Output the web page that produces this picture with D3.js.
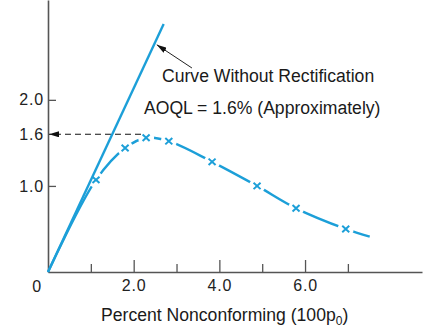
<!DOCTYPE html>
<html>
<head>
<meta charset="utf-8">
<script src="https://cdn.jsdelivr.net/npm/d3@7"></script>
<style>
    body { margin: 0; background: #fff; }
    svg { display: block; font-family: "Liberation Sans", Arial, Helvetica, sans-serif; }
    .tickText { font-size: 16px; fill: #222; letter-spacing: 0.8px; }
    .noteText { font-size: 17.6px; fill: #1a1a1a; }
</style>
</head>
<body>
<svg id="chart" width="429" height="331"></svg>
<script>
// AOQ with rectification, read at the sampled fractions nonconforming.
var sampleP = [1.12, 1.80, 2.29, 2.82, 3.83, 4.88, 5.79, 6.95];
var sampleAoq = [1.07, 1.44, 1.56, 1.52, 1.28, 1.00, 0.74, 0.50];
// The curve starts at the origin and trails off past the last sample.
var curveStart = [0, 0];
var curveEnd = [7.51, 0.41];
// Straight line for the case without rectification.
var noRectP = [0, 2.70];
var noRectAoq = [0, 2.88];
// AOQL level and where its dashed guide leaves the curve.
var aoqlValue = 1.6;
var aoqlP = 2.17;
// Pointer to the straight line (tail -> head), in data units.
var pointerTail = [3.36, 2.37];
var pointerHead = [2.54, 2.64];
// Ticks and labels.
var xTickValues = [1, 2, 3, 4, 5, 6, 7];
var xMajorTicks = [2, 4, 6];
var yTickValues = [1.0, 1.6, 2.0];
var yNoTick = [1.6];

var svg = d3.select( '#chart' ),
    blue = '#1c9fd8',
    axisColor = '#555',
    _x = d3.scaleLinear().domain( [0, 8.73] ).range( [48, 422] ),
    _y = d3.scaleLinear().domain( [0, 3.16] ).range( [272, 0] );

// Arrow heads.
var defs = svg.append( 'defs' );
defs.append( 'marker' )
    .attr( 'id', 'arrowHead' )
    .attr( 'viewBox', '0 0 10 6' )
    .attr( 'refX', 10 )
    .attr( 'refY', 3 )
    .attr( 'markerWidth', 10 )
    .attr( 'markerHeight', 6 )
    .attr( 'markerUnits', 'userSpaceOnUse' )
    .attr( 'orient', 'auto' )
    .append( 'path' )
    .attr( 'd', 'M0,0L10,3L0,6Z' )
    .attr( 'fill', '#111' );

// X axis, ticks pointing up into the plot.
var xAxis = svg.append( 'g' )
    .attr( 'transform', 'translate(0,' + _y( 0 ) + ')' )
    .attr( 'color', axisColor )
    .call( d3.axisBottom( _x )
        .tickValues( xTickValues )
        .tickSizeInner( -8 )
        .tickSizeOuter( 0 )
        .tickPadding( 8 )
        .tickFormat( d => xMajorTicks.indexOf( d ) >= 0 ? d3.format( '.1f' )( d ) : '' ) );
xAxis.select( '.domain' ).attr( 'stroke-width', 1.6 );
xAxis.selectAll( '.tick line' )
    .attr( 'stroke-width', 1.3 )
    .attr( 'y2', d => xMajorTicks.indexOf( d ) >= 0 ? -12 : -8 );
xAxis.selectAll( '.tick text' )
    .attr( 'class', 'tickText' )
    .attr( 'font-size', null )
    .attr( 'font-family', null );

// Y axis, ticks pointing right.
var yAxis = svg.append( 'g' )
    .attr( 'transform', 'translate(' + _x( 0 ) + ',0)' )
    .attr( 'color', axisColor )
    .call( d3.axisLeft( _y )
        .tickValues( yTickValues )
        .tickSizeInner( -8 )
        .tickSizeOuter( 0 )
        .tickPadding( 4 )
        .tickFormat( d3.format( '.1f' ) ) );
yAxis.select( '.domain' ).attr( 'stroke-width', 1.6 );
yAxis.selectAll( '.tick line' )
    .attr( 'stroke-width', 1.3 )
    .attr( 'display', d => yNoTick.indexOf( d ) >= 0 ? 'none' : null );
yAxis.selectAll( '.tick text' )
    .attr( 'class', 'tickText' )
    .attr( 'font-size', null )
    .attr( 'font-family', null );

// Shared origin label.
svg.append( 'text' )
    .attr( 'class', 'tickText' )
    .attr( 'x', _x( 0 ) - 11 )
    .attr( 'y', _y( 0 ) + 20 )
    .attr( 'text-anchor', 'middle' )
    .text( '0' );

// AOQ curve.
var samples = sampleP.map( ( p, i ) => [p, sampleAoq[i]] ),
    curvePoints = [curveStart].concat( samples, [curveEnd] ),
    line = d3.line()
        .x( d => _x( d[0] ) )
        .y( d => _y( d[1] ) )
        .curve( d3.curveCatmullRom.alpha( 0.5 ) );

svg.append( 'path' )
    .datum( curvePoints )
    .attr( 'd', line )
    .attr( 'fill', 'none' )
    .attr( 'stroke', blue )
    .attr( 'stroke-width', 2.4 );

// White knock-outs so the curve breaks around each sample mark.
svg.append( 'g' )
    .selectAll( 'circle' )
    .data( samples )
    .join( 'circle' )
    .attr( 'cx', d => _x( d[0] ) )
    .attr( 'cy', d => _y( d[1] ) )
    .attr( 'r', 8 )
    .attr( 'fill', '#fff' );

svg.append( 'g' )
    .selectAll( 'path' )
    .data( samples )
    .join( 'path' )
    .attr( 'transform', d => 'translate(' + _x( d[0] ) + ',' + _y( d[1] ) + ')' )
    .attr( 'd', 'M-3.5,-3.2L3.5,3.2M3.5,-3.2L-3.5,3.2' )
    .attr( 'fill', 'none' )
    .attr( 'stroke', blue )
    .attr( 'stroke-width', 2 );

// AOQL guide line with arrow onto the y axis.
svg.append( 'line' )
    .attr( 'x1', _x( aoqlP ) )
    .attr( 'y1', _y( aoqlValue ) )
    .attr( 'x2', _x( 0 ) + 1 )
    .attr( 'y2', _y( aoqlValue ) )
    .attr( 'stroke', '#111' )
    .attr( 'stroke-width', 1.1 )
    .attr( 'stroke-dasharray', '6,4' )
    .attr( 'marker-end', 'url(#arrowHead)' );

// Curve without rectification.
svg.append( 'path' )
    .datum( noRectP.map( ( p, i ) => [p, noRectAoq[i]] ) )
    .attr( 'd', d3.line().x( d => _x( d[0] ) ).y( d => _y( d[1] ) ) )
    .attr( 'fill', 'none' )
    .attr( 'stroke', blue )
    .attr( 'stroke-width', 2.4 );

// Pointer and notes.
svg.append( 'line' )
    .attr( 'x1', _x( pointerTail[0] ) )
    .attr( 'y1', _y( pointerTail[1] ) )
    .attr( 'x2', _x( pointerHead[0] ) )
    .attr( 'y2', _y( pointerHead[1] ) )
    .attr( 'stroke', '#222' )
    .attr( 'stroke-width', 1 )
    .attr( 'marker-end', 'url(#arrowHead)' );

svg.append( 'text' )
    .attr( 'class', 'noteText' )
    .attr( 'x', 162 )
    .attr( 'y', 82 )
    .text( 'Curve Without Rectification' );

svg.append( 'text' )
    .attr( 'class', 'noteText' )
    .attr( 'x', 144 )
    .attr( 'y', 114 )
    .text( 'AOQL = 1.6% (Approximately)' );

var xTitle = svg.append( 'text' )
    .attr( 'class', 'noteText' )
    .attr( 'x', 101 )
    .attr( 'y', 321 );
xTitle.append( 'tspan' ).text( 'Percent Nonconforming (100p' );
xTitle.append( 'tspan' ).attr( 'font-size', '12px' ).attr( 'dy', 4 ).text( '0' );
xTitle.append( 'tspan' ).attr( 'dy', -4 ).text( ')' );
</script>
</body>
</html>
